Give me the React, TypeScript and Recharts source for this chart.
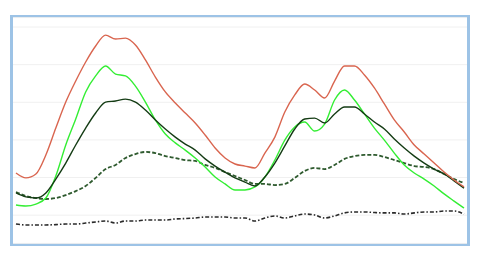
import React from "react";
import { LineChart, Line, XAxis, YAxis, CartesianGrid } from "recharts";

const periods: number[] = Array.from({ length: 46 }, (_, i) => i);

const seriesRed: number[] = [
  32.4, 29.8, 31.9, 42.0, 56.3, 70.1, 81.3, 91.4, 99.9, 105.7,
  103.6, 104.1, 100.4, 92.5, 83.4, 75.5, 69.6, 64.3, 59.0, 52.6,
  45.7, 40.4, 37.2, 36.1, 35.1, 43.0, 51.5, 64.8, 73.9, 79.7,
  76.5, 72.3, 81.3, 89.3, 89.3, 84.5, 77.6, 69.1, 60.6, 54.2,
  47.3, 42.5, 37.7, 32.9, 28.7, 25.0,
];

const seriesGreen: number[] = [
  15.4, 14.9, 15.9, 19.1, 30.8, 47.3, 61.1, 75.5, 84.0, 89.3,
  85.0, 84.0, 78.6, 70.1, 60.6, 53.1, 48.4, 44.6, 40.4, 35.6,
  30.3, 26.6, 23.4, 23.4, 25.0, 30.3, 39.3, 49.9, 56.9, 59.5,
  54.7, 58.4, 71.2, 76.5, 71.2, 63.8, 56.3, 49.9, 43.0, 36.7,
  32.4, 29.2, 25.5, 21.3, 17.5, 13.8,
];

const seriesDark: number[] = [
  21.8, 19.7, 19.1, 21.8, 29.2, 37.7, 47.3, 56.3, 64.3, 70.1,
  70.7, 71.7, 70.1, 65.9, 60.6, 55.8, 51.5, 47.8, 44.6, 39.9,
  36.1, 32.9, 29.8, 27.6, 25.5, 30.3, 37.7, 46.8, 55.8, 61.1,
  61.6, 59.0, 63.8, 67.5, 67.5, 63.8, 59.5, 55.8, 50.5, 45.7,
  41.4, 37.7, 34.5, 31.9, 28.2, 24.4,
];

const seriesDashed: number[] = [
  22.3, 20.2, 19.1, 18.6, 19.1, 20.7, 22.8, 25.5, 29.8, 34.5,
  36.7, 40.4, 42.5, 43.6, 43.0, 41.4, 40.4, 39.3, 38.8, 36.7,
  35.1, 32.9, 30.8, 28.7, 26.6, 26.6, 26.0, 26.6, 29.8, 33.5,
  35.1, 34.5, 36.7, 39.9, 41.4, 42.0, 42.0, 40.9, 39.3, 37.7,
  36.1, 35.6, 34.5, 31.9, 29.2, 27.1,
];

const seriesDashDot: number[] = [
  5.3, 4.8, 4.8, 4.8, 5.0, 5.3, 5.3, 5.8, 6.4, 6.9,
  5.8, 6.9, 6.9, 7.4, 7.4, 7.4, 8.0, 8.2, 8.5, 9.0,
  9.0, 9.0, 8.5, 8.5, 6.9, 8.5, 9.6, 8.5, 9.6, 10.6,
  10.1, 8.5, 9.6, 11.2, 11.7, 11.7, 11.4, 11.2, 11.2, 10.6,
  11.2, 11.7, 11.7, 12.2, 12.2, 10.6,
];

const yTicks: number[] = [0, 10, 20, 30, 40, 50, 60, 70, 80, 90, 100, 110];

const data = periods.map((p, i) => ({
  p,
  red: seriesRed[i],
  green: seriesGreen[i],
  dark: seriesDark[i],
  dashed: seriesDashed[i],
  dashdot: seriesDashDot[i],
}));

export default function App() {
  return (
    <div style={{ position: "absolute", left: 0, top: 0, width: 480, height: 262, background: "#fff" }}>
      <div
        style={{
          position: "absolute",
          left: 10,
          top: 15,
          width: 460,
          height: 231,
          boxSizing: "border-box",
          border: "3px solid #9DC3E6",
        }}
      />
      <div style={{ position: "absolute", left: 0, top: 0 }}>
        <LineChart
          width={480}
          height={262}
          data={data}
          margin={{ top: 17.6, bottom: 18.6, left: 13, right: 13 }}
        >
          <CartesianGrid vertical={false} stroke="#F0F0F0" strokeWidth={1} />
          <XAxis dataKey="p" type="number" domain={[-0.3, 45.3]} hide />
          <YAxis type="number" domain={[-5, 115]} ticks={yTicks} hide />
          <Line type="monotone" dataKey="dashdot" stroke="#2A2A2A" strokeWidth={1.6} strokeDasharray="4 2 1.5 2" dot={false} isAnimationActive={false} />
          <Line type="monotone" dataKey="dashed" stroke="#2E5A2E" strokeWidth={1.8} strokeDasharray="4 2" dot={false} isAnimationActive={false} />
          <Line type="monotone" dataKey="green" stroke="#33EE33" strokeWidth={1.4} dot={false} isAnimationActive={false} />
          <Line type="monotone" dataKey="dark" stroke="#143C14" strokeWidth={1.4} dot={false} isAnimationActive={false} />
          <Line type="monotone" dataKey="red" stroke="#D9654F" strokeWidth={1.4} dot={false} isAnimationActive={false} />
        </LineChart>
      </div>
    </div>
  );
}
